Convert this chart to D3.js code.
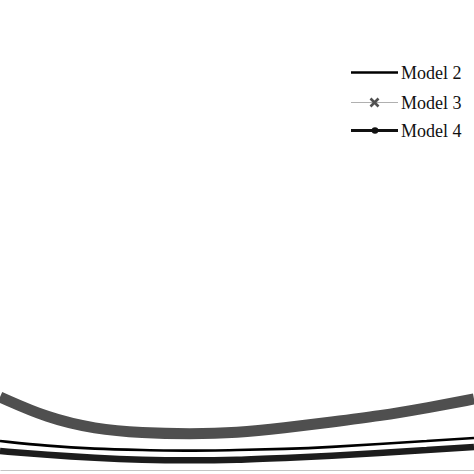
<!DOCTYPE html>
<html>
<head>
<meta charset="utf-8">
<script src="https://cdn.jsdelivr.net/npm/d3@7"></script>
<style>
  html, body { margin: 0; padding: 0; background: #fff; }
  svg { display: block; }
</style>
</head>
<body>
<div id="chartArea"></div>
<script>
// data
var xValues = [0, 1, 2, 3, 4, 5, 6, 7, 8, 9, 10];
var model2 = [0.29, 0.24, 0.21, 0.20, 0.19, 0.20, 0.21, 0.23, 0.26, 0.29, 0.32];
var model3 = [0.73, 0.52, 0.41, 0.37, 0.36, 0.37, 0.42, 0.48, 0.54, 0.62, 0.71];
var model4 = [0.19, 0.15, 0.12, 0.10, 0.095, 0.10, 0.12, 0.14, 0.17, 0.20, 0.23];
var seriesNames = ['Model 2', 'Model 3', 'Model 4'];

var width = 474, height = 474;

var svg = d3.select('#chartArea').append('svg')
  .attr('width', width)
  .attr('height', height);

var x = d3.scaleLinear().domain([0, 10]).range([0, 474]);
var y = d3.scaleLinear().domain([0, 4.7]).range([470, 0]);

// bottom axis line
svg.append('g')
  .attr('transform', 'translate(0,' + y(0) + ')')
  .call(d3.axisBottom(x).ticks(0).tickSize(0))
  .call(function (g) {
    g.select('.domain').attr('stroke', '#c4c4c4').attr('stroke-width', 1.2);
  });

var line = d3.line()
  .x(function (d) { return x(d[0]); })
  .y(function (d) { return y(d[1]); })
  .curve(d3.curveBasis);

function pairs(vals) {
  return xValues.map(function (v, i) { return [v, vals[i]]; });
}

// Model 3: markers so dense they merge into a grey band
svg.append('path')
  .datum(pairs(model3))
  .attr('fill', 'none')
  .attr('stroke', '#4f4f4f')
  .attr('stroke-width', 11)
  .attr('d', line);

// Model 2: thin black
svg.append('path')
  .datum(pairs(model2))
  .attr('fill', 'none')
  .attr('stroke', '#000')
  .attr('stroke-width', 2.6)
  .attr('d', line);

// Model 4: thick black with dense dots
svg.append('path')
  .datum(pairs(model4))
  .attr('fill', 'none')
  .attr('stroke', '#1c1c1c')
  .attr('stroke-width', 6.5)
  .attr('d', line);

// legend
var legendY = [72.5, 102.5, 130.5];
var legend = svg.append('g');

seriesNames.forEach(function (name, i) {
  var g = legend.append('g').attr('transform', 'translate(0,' + legendY[i] + ')');
  if (i === 0) {
    g.append('line').attr('x1', 351).attr('x2', 398).attr('stroke', '#000').attr('stroke-width', 2.4);
  } else if (i === 1) {
    g.append('line').attr('x1', 351).attr('x2', 398).attr('stroke', '#b0b0b0').attr('stroke-width', 1);
    g.append('path')
      .attr('d', 'M370.5,-4L378.5,4M370.5,4L378.5,-4')
      .attr('stroke', '#505050')
      .attr('stroke-width', 2.6);
  } else {
    g.append('line').attr('x1', 351).attr('x2', 398).attr('stroke', '#111').attr('stroke-width', 2.8);
    g.append('circle').attr('cx', 375).attr('r', 3.3).attr('fill', '#111');
  }
  g.append('text')
    .attr('x', 401)
    .attr('y', 6)
    .attr('font-family', '"Liberation Serif", "Times New Roman", serif')
    .attr('font-size', 18)
    .attr('fill', '#111')
    .text(name);
});
</script>
</body>
</html>
